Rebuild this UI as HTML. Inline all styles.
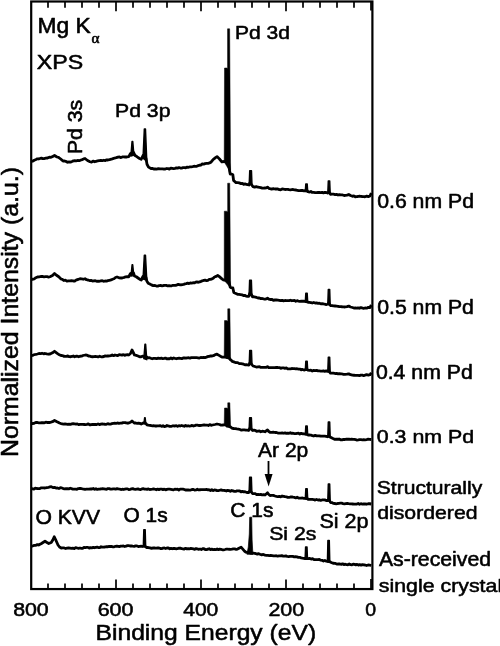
<!DOCTYPE html>
<html lang="en">
<head>
<meta charset="utf-8">
<title>XPS survey spectra</title>
<style>
html,body{margin:0;padding:0;background:#fff;}
body{width:500px;height:646px;overflow:hidden;}
svg{display:block;}
text{white-space:pre;}
</style>
</head>
<body>
<svg width="500" height="646" viewBox="0 0 500 646">
<rect x="31.2" y="1.5" width="341.2" height="587.55" fill="none" stroke="#000" stroke-width="2.2"/>
<path d="M371.00 589.05 V579.05 M371.00 1.5 V10.50 M354.00 589.05 V583.45 M354.00 1.5 V7.70 M337.00 589.05 V583.45 M337.00 1.5 V7.70 M320.00 589.05 V583.45 M320.00 1.5 V7.70 M303.00 589.05 V583.45 M303.00 1.5 V7.70 M286.00 589.05 V579.45 M286.00 1.5 V11.30 M269.00 589.05 V583.45 M269.00 1.5 V7.70 M252.00 589.05 V583.45 M252.00 1.5 V7.70 M235.00 589.05 V583.45 M235.00 1.5 V7.70 M218.00 589.05 V583.45 M218.00 1.5 V7.70 M201.00 589.05 V579.45 M201.00 1.5 V11.30 M184.00 589.05 V583.45 M184.00 1.5 V7.70 M167.00 589.05 V583.45 M167.00 1.5 V7.70 M150.00 589.05 V583.45 M150.00 1.5 V7.70 M133.00 589.05 V583.45 M133.00 1.5 V7.70 M116.00 589.05 V579.45 M116.00 1.5 V11.30 M99.00 589.05 V583.45 M99.00 1.5 V7.70 M82.00 589.05 V583.45 M82.00 1.5 V7.70 M65.00 589.05 V583.45 M65.00 1.5 V7.70 M48.00 589.05 V583.45 M48.00 1.5 V7.70" stroke="#000" stroke-width="1.7" fill="none"/>
<path d="M31.50 161.50 L32.50 161.25 L34.25 160.20 L36.00 159.50 L37.33 158.82 L38.67 158.98 L40.00 158.50 L41.33 158.14 L42.67 158.67 L44.00 158.70 L45.75 158.22 L47.50 158.00 L49.25 157.21 L51.00 157.30 L52.75 156.41 L54.50 155.50 L57.00 157.00 L58.50 157.29 L60.00 158.50 L61.50 159.68 L63.00 161.00 L64.50 160.99 L66.00 161.42 L67.50 162.25 L69.00 161.92 L70.50 162.08 L72.00 161.50 L73.38 160.87 L74.75 160.72 L76.12 160.88 L77.50 160.50 L79.25 160.70 L81.00 160.00 L82.33 159.58 L83.67 158.90 L85.00 158.50 L87.50 160.50 L90.00 161.75 L91.50 162.11 L93.00 161.07 L94.50 161.77 L96.00 161.30 L97.62 160.91 L99.25 160.59 L100.88 160.39 L102.50 160.60 L103.88 160.26 L105.25 160.62 L106.62 159.83 L108.00 160.00 L109.67 159.61 L111.33 159.21 L113.00 158.60 L114.67 158.01 L116.33 157.71 L118.00 157.20 L119.50 156.96 L121.00 157.60 L122.33 156.96 L123.67 156.91 L125.00 157.00 L126.88 156.98 L128.75 156.60 L130.50 153.50 L132.00 152.93 L133.50 152.50 L135.00 155.50 L136.50 156.31 L138.00 157.50 L139.62 158.46 L141.25 159.25 L143.00 155.50 L144.50 156.95 L146.00 158.50 L147.00 164.25 L148.50 167.10 L151.00 168.50 L152.33 168.40 L153.67 168.99 L155.00 168.80 L156.67 169.03 L158.33 168.61 L160.00 168.90 L161.33 168.94 L162.67 168.86 L164.00 169.18 L165.33 169.00 L166.67 168.52 L168.00 168.70 L169.40 169.10 L170.80 168.16 L172.20 168.38 L173.60 168.64 L175.00 168.30 L176.33 167.85 L177.67 168.09 L179.00 167.54 L180.33 168.07 L181.67 168.06 L183.00 167.70 L184.40 167.61 L185.80 167.76 L187.20 167.03 L188.60 167.26 L190.00 166.90 L191.33 166.79 L192.67 166.58 L194.00 166.26 L195.33 166.44 L196.67 166.34 L198.00 165.70 L199.40 165.25 L200.80 165.02 L202.20 164.00 L203.60 164.22 L205.00 163.60 L206.50 163.40 L208.00 163.39 L209.50 162.87 L211.00 162.20 L212.50 160.28 L214.00 158.80 L215.50 157.59 L217.00 156.60 L219.50 159.00 L221.80 161.80 L224.20 161.50 L225.67 161.94 L227.13 161.56 L228.60 162.30 L229.60 171.00 L230.20 174.00 L231.50 174.21 L232.80 174.50 L233.60 180.50 L236.00 182.60 L237.67 182.60 L239.33 182.88 L241.00 183.60 L242.33 183.39 L243.67 184.33 L245.00 183.93 L246.33 184.28 L247.67 184.66 L249.00 185.00 L249.80 183.00 L251.40 184.50 L253.00 186.60 L254.67 187.17 L256.33 186.58 L258.00 187.20 L259.40 187.31 L260.80 187.57 L262.20 188.06 L263.60 188.16 L265.00 188.00 L266.30 187.90 L267.50 187.10 L268.80 188.30 L270.00 188.70 L271.67 189.16 L273.33 188.68 L275.00 189.00 L276.43 188.99 L277.86 189.00 L279.29 189.60 L280.71 189.74 L282.14 189.01 L283.57 189.10 L285.00 189.50 L286.35 189.31 L287.69 189.39 L289.04 189.72 L290.38 189.90 L291.73 189.65 L293.08 189.47 L294.42 189.96 L295.77 189.98 L297.12 190.26 L298.46 190.72 L299.81 190.54 L301.15 190.44 L302.50 190.50 L304.00 190.77 L305.50 190.80 L307.50 191.00 L308.00 191.75 L309.43 192.03 L310.86 191.52 L312.29 192.47 L313.71 192.46 L315.14 192.66 L316.57 192.69 L318.00 192.50 L319.36 192.46 L320.71 192.54 L322.07 192.32 L323.43 192.92 L324.79 192.42 L326.14 192.50 L327.50 193.00 L328.30 192.50 L329.80 193.00 L330.50 194.25 L332.00 194.11 L333.50 194.21 L335.00 194.54 L336.50 194.40 L338.00 195.00 L339.40 194.60 L340.80 194.85 L342.20 194.90 L343.60 195.26 L345.00 195.50 L347.00 195.10 L348.75 194.50 L350.50 195.50 L352.50 196.30 L353.88 195.88 L355.25 196.77 L356.62 196.56 L358.00 196.50 L359.40 196.20 L360.80 196.35 L362.20 196.50 L363.60 196.56 L365.00 196.75 L366.67 196.12 L368.33 196.60 L370.00 196.00 L371.30 193.00" fill="none" stroke="#000" stroke-width="2.8" stroke-linejoin="round" stroke-linecap="butt"/>
<path d="M130.86 156.10 L132.02 141.55 L132.78 141.55 L133.94 155.10 Z" fill="#000" stroke="#000" stroke-width="1.4" stroke-linejoin="round"/>
<path d="M143.00 158.10 L144.30 129.05 L145.50 129.05 L146.80 161.10 Z" fill="#000" stroke="#000" stroke-width="1.4" stroke-linejoin="round"/>
<path d="M249.20 183.50 L249.70 170.80 L251.50 170.80 L252.00 185.00 Z" fill="#000" stroke="#000" stroke-width="1.4" stroke-linejoin="round"/>
<path d="M305.28 191.30 L305.78 183.90 L307.22 183.90 L307.72 191.50 Z" fill="#000" stroke="#000" stroke-width="1.4" stroke-linejoin="round"/>
<path d="M327.78 193.00 L328.28 180.90 L329.72 180.90 L330.22 193.50 Z" fill="#000" stroke="#000" stroke-width="1.4" stroke-linejoin="round"/>
<path d="M31.50 279.50 L32.50 279.25 L34.17 278.99 L35.83 277.72 L37.50 277.00 L39.12 276.93 L40.75 276.49 L42.38 276.45 L44.00 276.80 L45.50 276.63 L47.00 276.54 L48.50 277.09 L50.00 276.75 L52.50 275.50 L54.50 273.50 L56.50 275.30 L58.75 276.75 L61.00 279.00 L62.38 279.41 L63.75 280.50 L65.31 280.12 L66.88 281.15 L68.44 280.83 L70.00 280.90 L71.67 280.58 L73.33 281.01 L75.00 281.00 L76.50 279.78 L78.00 279.50 L80.00 278.75 L81.67 278.78 L83.33 279.23 L85.00 278.75 L86.50 279.74 L88.00 280.00 L89.50 280.53 L91.00 280.43 L92.50 281.00 L93.89 280.87 L95.28 280.67 L96.67 281.27 L98.06 281.03 L99.44 281.28 L100.83 280.83 L102.22 280.72 L103.61 281.31 L105.00 281.00 L106.50 281.13 L108.00 280.65 L109.50 280.26 L111.00 279.92 L112.50 279.25 L114.00 278.74 L115.50 277.48 L117.00 277.00 L119.00 277.80 L121.25 278.00 L122.75 277.77 L124.25 277.36 L125.75 276.78 L127.25 276.53 L128.75 276.75 L130.50 273.50 L132.00 273.03 L133.50 273.00 L134.50 276.00 L136.25 276.76 L138.00 278.00 L139.62 279.19 L141.25 280.00 L143.00 276.50 L144.50 277.46 L146.00 277.50 L146.80 281.00 L148.20 283.20 L149.80 284.00 L151.40 284.90 L153.20 285.64 L155.00 285.50 L156.40 286.05 L157.80 286.08 L159.20 285.54 L160.60 285.46 L162.00 285.80 L163.40 285.51 L164.80 285.46 L166.20 285.44 L167.60 285.84 L169.00 285.70 L170.33 285.97 L171.67 285.77 L173.00 285.28 L174.33 285.32 L175.67 285.33 L177.00 284.90 L178.33 284.32 L179.67 284.73 L181.00 284.81 L182.33 284.52 L183.67 284.32 L185.00 283.90 L186.33 283.68 L187.67 283.18 L189.00 283.59 L190.33 282.93 L191.67 283.20 L193.00 282.70 L194.33 282.95 L195.67 282.16 L197.00 281.95 L198.33 282.28 L199.67 281.84 L201.00 281.40 L202.37 280.78 L203.74 280.46 L205.11 280.19 L206.49 280.66 L207.86 280.28 L209.23 279.33 L210.60 279.40 L211.90 278.93 L213.20 278.28 L214.50 277.00 L216.10 276.41 L217.70 275.50 L219.10 276.40 L220.50 277.60 L221.95 278.85 L223.40 280.00 L224.25 280.20 L225.77 280.10 L227.28 280.25 L228.80 281.00 L230.20 287.30 L231.00 287.60 L232.80 287.90 L233.80 292.40 L236.00 293.60 L237.50 294.37 L239.00 294.35 L240.50 294.53 L242.00 294.80 L243.35 295.52 L244.70 295.31 L246.05 296.04 L247.40 296.29 L248.75 296.25 L249.70 293.50 L251.30 294.50 L252.50 296.75 L253.88 296.77 L255.25 297.13 L256.62 297.48 L258.00 298.00 L259.40 297.99 L260.80 298.59 L262.20 298.51 L263.60 298.92 L265.00 299.25 L266.30 298.90 L267.50 298.20 L268.80 299.20 L270.00 299.50 L271.67 299.30 L273.33 300.24 L275.00 300.00 L276.43 299.93 L277.86 300.10 L279.29 300.30 L280.71 300.69 L282.14 300.28 L283.57 300.85 L285.00 300.50 L286.35 300.56 L287.69 300.65 L289.04 300.70 L290.38 300.25 L291.73 300.73 L293.08 300.53 L294.42 300.41 L295.77 301.26 L297.12 300.69 L298.46 301.05 L299.81 301.36 L301.15 301.25 L302.50 301.25 L304.00 301.20 L305.50 301.50 L307.50 301.80 L308.00 302.25 L309.43 302.42 L310.86 302.61 L312.29 302.98 L313.71 302.46 L315.14 303.06 L316.57 302.90 L318.00 303.30 L319.36 303.21 L320.71 303.84 L322.07 303.71 L323.43 303.90 L324.79 304.24 L326.14 304.53 L327.50 304.25 L328.30 303.50 L329.80 304.50 L330.50 305.50 L332.00 305.60 L333.50 305.93 L335.00 305.99 L336.50 306.15 L338.00 306.30 L339.40 306.63 L340.80 306.53 L342.20 306.75 L343.60 306.84 L345.00 307.00 L347.00 306.60 L348.75 306.10 L350.50 307.00 L352.50 307.50 L353.88 308.02 L355.25 307.85 L356.62 308.10 L358.00 307.80 L359.40 308.28 L360.80 307.64 L362.20 307.98 L363.60 308.40 L365.00 308.00 L366.67 308.17 L368.33 307.30 L370.00 307.50 L371.30 305.00" fill="none" stroke="#000" stroke-width="2.8" stroke-linejoin="round" stroke-linecap="butt"/>
<path d="M130.97 276.10 L132.09 264.80 L132.71 264.80 L133.83 275.60 Z" fill="#000" stroke="#000" stroke-width="1.4" stroke-linejoin="round"/>
<path d="M143.00 279.10 L144.30 255.30 L145.50 255.30 L146.80 280.10 Z" fill="#000" stroke="#000" stroke-width="1.4" stroke-linejoin="round"/>
<path d="M249.10 294.00 L249.60 280.30 L251.40 280.30 L251.90 295.00 Z" fill="#000" stroke="#000" stroke-width="1.4" stroke-linejoin="round"/>
<path d="M305.28 302.00 L305.78 293.30 L307.22 293.30 L307.72 302.30 Z" fill="#000" stroke="#000" stroke-width="1.4" stroke-linejoin="round"/>
<path d="M327.78 304.00 L328.28 289.55 L329.72 289.55 L330.22 305.00 Z" fill="#000" stroke="#000" stroke-width="1.4" stroke-linejoin="round"/>
<path d="M31.50 355.70 L32.50 355.50 L34.17 354.62 L35.83 354.44 L37.50 354.00 L39.00 353.47 L40.50 353.54 L42.00 353.27 L43.50 353.77 L45.00 353.50 L46.67 353.95 L48.33 354.23 L50.00 354.00 L52.50 352.80 L54.50 351.25 L56.50 352.80 L58.75 354.50 L61.00 355.50 L62.38 355.53 L63.75 356.25 L65.12 356.47 L66.50 356.43 L67.88 355.92 L69.25 356.67 L70.62 356.76 L72.00 356.30 L73.33 356.01 L74.67 356.74 L76.00 356.17 L77.33 356.25 L78.67 356.75 L80.00 356.25 L81.50 356.21 L83.00 355.50 L85.50 355.00 L87.00 355.16 L88.50 356.00 L89.83 356.18 L91.17 356.52 L92.50 356.75 L93.93 356.59 L95.36 356.45 L96.79 356.57 L98.21 356.97 L99.64 356.27 L101.07 356.80 L102.50 356.75 L103.88 356.50 L105.25 355.89 L106.62 356.02 L108.00 356.00 L109.40 355.92 L110.80 355.61 L112.20 354.96 L113.60 355.69 L115.00 355.00 L116.40 355.31 L117.80 355.51 L119.20 354.66 L120.60 354.85 L122.00 355.10 L123.35 354.62 L124.70 355.34 L126.05 354.81 L127.40 354.65 L128.75 355.00 L130.50 353.50 L132.00 350.00 L133.50 353.00 L134.50 355.00 L136.25 355.42 L138.00 356.00 L139.62 356.79 L141.25 356.75 L142.90 356.10 L144.23 356.75 L145.57 356.53 L146.90 357.10 L148.00 357.90 L149.50 357.75 L151.00 358.30 L152.33 358.75 L153.67 358.44 L155.00 358.40 L156.67 358.63 L158.33 358.06 L160.00 358.50 L161.36 358.05 L162.73 358.67 L164.09 358.40 L165.45 358.04 L166.82 358.89 L168.18 358.58 L169.55 358.74 L170.91 358.01 L172.27 358.77 L173.64 357.98 L175.00 358.40 L176.36 358.74 L177.73 358.30 L179.09 358.16 L180.45 358.34 L181.82 358.69 L183.18 358.00 L184.55 357.84 L185.91 358.21 L187.27 357.89 L188.64 357.74 L190.00 358.10 L191.33 357.71 L192.67 357.55 L194.00 357.65 L195.33 357.71 L196.67 357.66 L198.00 357.80 L199.40 358.02 L200.80 357.51 L202.20 357.68 L203.60 357.32 L205.00 357.60 L206.44 357.13 L207.88 356.48 L209.32 356.39 L210.76 355.84 L212.20 356.00 L213.50 355.68 L214.80 354.90 L217.00 354.20 L219.50 355.60 L220.95 356.45 L222.40 357.20 L224.30 357.20 L225.87 357.09 L227.43 357.57 L229.00 357.80 L230.30 359.60 L231.00 360.00 L232.40 361.38 L233.80 361.90 L236.00 362.70 L237.67 362.64 L239.33 363.69 L241.00 363.70 L242.30 363.88 L243.60 364.20 L244.90 364.78 L246.20 364.59 L247.50 364.96 L248.80 365.20 L249.80 363.00 L251.40 364.00 L253.00 366.00 L254.67 366.45 L256.33 367.02 L258.00 366.80 L259.40 366.76 L260.80 367.37 L262.20 367.37 L263.60 367.42 L265.00 367.40 L266.30 367.30 L267.50 366.60 L268.80 367.70 L270.00 367.70 L271.67 367.60 L273.33 367.55 L275.00 367.70 L276.43 367.34 L277.86 367.50 L279.29 367.53 L280.71 368.28 L282.14 367.88 L283.57 367.88 L285.00 368.30 L286.35 367.97 L287.69 368.82 L289.04 368.94 L290.38 368.82 L291.73 368.52 L293.08 368.57 L294.42 368.71 L295.77 368.97 L297.12 368.75 L298.46 369.13 L299.81 369.04 L301.15 369.82 L302.50 369.45 L304.00 370.05 L305.50 369.70 L307.50 369.70 L308.00 370.20 L309.43 370.35 L310.86 370.14 L312.29 370.97 L313.71 370.41 L315.14 370.56 L316.57 370.30 L318.00 370.90 L319.36 370.86 L320.71 371.03 L322.07 371.14 L323.43 370.92 L324.79 371.30 L326.14 370.88 L327.50 371.45 L328.30 370.70 L329.80 372.20 L330.50 373.20 L332.00 373.10 L333.50 373.07 L335.00 373.52 L336.50 373.30 L338.00 373.90 L339.40 373.53 L340.80 373.92 L342.20 373.96 L343.60 374.43 L345.00 374.45 L347.00 374.20 L348.75 373.80 L350.50 374.70 L352.50 375.20 L353.89 375.23 L355.28 375.45 L356.67 375.36 L358.06 375.42 L359.44 375.58 L360.83 375.09 L362.22 375.03 L363.61 375.68 L365.00 375.20 L366.67 374.68 L368.33 375.09 L370.00 374.70 L371.30 372.70" fill="none" stroke="#000" stroke-width="2.8" stroke-linejoin="round" stroke-linecap="butt"/>
<path d="M143.80 358.70 L144.95 344.30 L145.65 344.30 L146.80 359.70 Z" fill="#000" stroke="#000" stroke-width="1.4" stroke-linejoin="round"/>
<path d="M249.20 363.50 L249.70 350.40 L251.50 350.40 L252.00 364.50 Z" fill="#000" stroke="#000" stroke-width="1.4" stroke-linejoin="round"/>
<path d="M305.28 370.20 L305.78 361.25 L307.22 361.25 L307.72 370.20 Z" fill="#000" stroke="#000" stroke-width="1.4" stroke-linejoin="round"/>
<path d="M327.78 371.20 L328.28 357.25 L329.72 357.25 L330.22 372.70 Z" fill="#000" stroke="#000" stroke-width="1.4" stroke-linejoin="round"/>
<path d="M31.50 423.70 L32.50 423.50 L34.17 423.31 L35.83 422.38 L37.50 422.50 L38.89 422.84 L40.28 422.89 L41.67 422.63 L43.06 422.73 L44.44 422.81 L45.83 422.14 L47.22 422.52 L48.61 422.50 L50.00 422.50 L52.50 421.70 L54.50 420.50 L57.00 421.80 L59.50 423.00 L60.88 423.58 L62.25 423.80 L63.62 424.08 L65.00 424.00 L66.36 424.11 L67.73 424.45 L69.09 424.26 L70.45 424.30 L71.82 423.87 L73.18 423.69 L74.55 423.82 L75.91 424.08 L77.27 423.85 L78.64 424.61 L80.00 424.30 L81.39 424.38 L82.78 424.47 L84.17 424.49 L85.56 424.57 L86.94 424.40 L88.33 423.94 L89.72 424.75 L91.11 424.73 L92.50 424.50 L93.89 424.48 L95.28 424.48 L96.67 424.58 L98.06 423.95 L99.44 424.60 L100.83 424.09 L102.22 423.88 L103.61 424.04 L105.00 424.25 L106.39 424.34 L107.78 423.68 L109.17 424.07 L110.56 424.17 L111.94 423.55 L113.33 423.30 L114.72 423.26 L116.11 423.32 L117.50 423.00 L118.91 423.27 L120.31 423.12 L121.72 423.14 L123.12 422.58 L124.53 422.65 L125.94 422.75 L127.34 423.24 L128.75 423.00 L130.50 422.30 L132.00 421.00 L133.50 422.30 L134.50 423.00 L135.85 423.00 L137.20 423.47 L138.55 423.11 L139.90 423.36 L141.25 424.00 L143.20 423.00 L144.55 423.02 L145.90 423.50 L147.00 424.80 L148.33 425.21 L149.67 425.46 L151.00 425.50 L152.33 425.84 L153.67 425.62 L155.00 426.00 L156.33 426.02 L157.67 425.96 L159.00 425.97 L160.33 425.62 L161.67 426.39 L163.00 425.70 L164.33 426.48 L165.67 426.44 L167.00 425.52 L168.33 425.96 L169.67 426.32 L171.00 426.47 L172.33 425.95 L173.67 425.77 L175.00 426.00 L176.32 425.68 L177.63 426.39 L178.95 425.63 L180.26 425.98 L181.58 425.51 L182.89 425.87 L184.21 426.27 L185.53 425.42 L186.84 426.08 L188.16 425.75 L189.47 426.10 L190.79 425.89 L192.11 425.39 L193.42 426.03 L194.74 425.59 L196.05 425.10 L197.37 425.06 L198.68 425.52 L200.00 425.50 L201.39 425.40 L202.78 425.19 L204.17 424.97 L205.56 425.12 L206.94 425.04 L208.33 425.51 L209.72 424.61 L211.11 425.31 L212.50 425.00 L215.00 424.50 L217.00 424.00 L219.50 424.50 L221.00 425.09 L222.50 425.00 L224.30 424.80 L225.73 424.91 L227.15 426.20 L228.57 426.48 L230.00 426.75 L231.00 427.30 L232.38 428.30 L233.75 428.50 L235.31 428.54 L236.88 428.87 L238.44 429.14 L240.00 429.50 L241.46 430.17 L242.92 429.92 L244.38 429.86 L245.83 430.09 L247.29 430.11 L248.75 430.50 L249.70 428.50 L251.30 429.00 L252.50 430.50 L253.88 430.20 L255.25 430.40 L256.62 431.28 L258.00 431.10 L259.40 431.02 L260.80 431.80 L262.20 431.24 L263.60 431.39 L265.00 431.75 L266.50 430.70 L267.50 430.00 L268.80 431.50 L270.00 432.25 L271.67 432.34 L273.33 432.11 L275.00 432.50 L276.43 432.43 L277.86 433.07 L279.29 433.06 L280.71 433.04 L282.14 432.92 L283.57 433.26 L285.00 432.90 L286.35 433.41 L287.69 433.08 L289.04 433.32 L290.38 432.71 L291.73 433.46 L293.08 433.24 L294.42 433.61 L295.77 433.57 L297.12 433.27 L298.46 433.10 L299.81 434.05 L301.15 433.31 L302.50 433.75 L304.00 433.90 L305.50 434.10 L307.50 434.50 L308.00 435.00 L309.43 434.97 L310.86 435.05 L312.29 435.62 L313.71 435.99 L315.14 435.40 L316.57 435.93 L318.00 435.90 L319.36 435.82 L320.71 436.20 L322.07 436.16 L323.43 436.05 L324.79 436.17 L326.14 436.34 L327.50 436.75 L328.30 436.00 L329.80 436.80 L330.50 437.30 L333.00 438.60 L334.50 439.31 L336.00 439.20 L337.50 439.25 L339.00 439.02 L340.50 439.76 L342.00 439.90 L343.50 439.40 L345.00 439.50 L346.33 439.16 L347.67 439.23 L349.00 439.15 L350.33 439.42 L351.67 439.19 L353.00 439.36 L354.33 439.40 L355.67 439.73 L357.00 440.07 L358.33 439.95 L359.67 439.63 L361.00 439.65 L362.33 439.78 L363.67 439.66 L365.00 439.80 L366.57 439.56 L368.15 439.21 L369.73 439.35 L371.30 439.50" fill="none" stroke="#000" stroke-width="2.8" stroke-linejoin="round" stroke-linecap="butt"/>
<path d="M143.90 423.50 L144.65 417.70 L145.15 417.70 L145.90 424.00 Z" fill="#000" stroke="#000" stroke-width="1.4" stroke-linejoin="round"/>
<path d="M249.10 429.00 L249.60 417.80 L251.40 417.80 L251.90 429.50 Z" fill="#000" stroke="#000" stroke-width="1.4" stroke-linejoin="round"/>
<path d="M305.28 434.60 L305.78 426.05 L307.22 426.05 L307.72 435.00 Z" fill="#000" stroke="#000" stroke-width="1.4" stroke-linejoin="round"/>
<path d="M327.78 436.50 L328.28 422.05 L329.72 422.05 L330.22 437.30 Z" fill="#000" stroke="#000" stroke-width="1.4" stroke-linejoin="round"/>
<path d="M31.50 488.80 L32.50 488.75 L33.89 489.13 L35.28 488.21 L36.67 488.50 L38.06 488.55 L39.44 488.70 L40.83 487.97 L42.22 487.94 L43.61 487.83 L45.00 488.00 L46.75 487.55 L48.50 487.30 L49.88 486.97 L51.25 486.75 L52.88 487.53 L54.50 487.40 L56.00 488.05 L57.50 488.00 L58.93 488.48 L60.36 487.74 L61.79 487.85 L63.21 488.64 L64.64 488.93 L66.07 488.62 L67.50 488.75 L68.85 488.85 L70.21 488.27 L71.56 488.67 L72.92 489.22 L74.27 489.13 L75.62 489.17 L76.98 489.30 L78.33 488.58 L79.69 488.45 L81.04 488.51 L82.40 488.89 L83.75 489.06 L85.10 489.33 L86.46 489.12 L87.81 489.05 L89.17 489.18 L90.52 488.88 L91.88 488.99 L93.23 488.49 L94.58 489.24 L95.94 488.70 L97.29 489.40 L98.65 489.14 L100.00 489.00 L101.31 488.81 L102.62 488.64 L103.93 488.77 L105.24 489.16 L106.55 489.23 L107.86 488.65 L109.17 488.61 L110.48 489.07 L111.79 489.14 L113.10 488.95 L114.40 488.79 L115.71 489.17 L117.02 488.59 L118.33 488.88 L119.64 489.05 L120.95 489.55 L122.26 489.25 L123.57 489.49 L124.88 489.09 L126.19 488.85 L127.50 488.87 L128.81 489.59 L130.12 489.34 L131.43 488.95 L132.74 488.67 L134.05 489.15 L135.36 489.34 L136.67 489.09 L137.98 488.93 L139.29 489.35 L140.60 489.61 L141.90 488.92 L143.21 488.73 L144.52 489.04 L145.83 489.13 L147.14 489.40 L148.45 488.92 L149.76 489.52 L151.07 489.47 L152.38 489.24 L153.69 488.95 L155.00 489.25 L156.32 489.73 L157.65 489.09 L158.97 489.61 L160.29 489.04 L161.62 489.04 L162.94 489.60 L164.26 489.15 L165.59 489.82 L166.91 489.38 L168.24 489.08 L169.56 489.14 L170.88 489.34 L172.21 489.61 L173.53 489.90 L174.85 489.12 L176.18 489.38 L177.50 489.21 L178.82 489.99 L180.15 489.17 L181.47 489.10 L182.79 489.12 L184.12 489.47 L185.44 489.99 L186.76 489.99 L188.09 489.85 L189.41 490.13 L190.74 490.08 L192.06 489.49 L193.38 489.36 L194.71 490.13 L196.03 489.95 L197.35 489.25 L198.68 489.90 L200.00 489.75 L201.32 489.67 L202.63 489.70 L203.95 489.70 L205.26 489.58 L206.58 489.45 L207.89 489.77 L209.21 489.88 L210.53 490.52 L211.84 489.73 L213.16 490.61 L214.47 489.89 L215.79 490.08 L217.11 490.58 L218.42 490.62 L219.74 490.27 L221.05 489.93 L222.37 490.39 L223.68 490.33 L225.00 490.50 L226.33 491.00 L227.67 490.36 L229.00 490.61 L230.33 491.23 L231.67 490.45 L233.00 490.91 L234.33 491.40 L235.67 491.43 L237.00 490.79 L238.33 490.87 L239.67 490.98 L241.00 491.92 L242.33 491.34 L243.67 491.91 L245.00 491.75 L246.88 492.52 L248.75 492.50 L249.70 491.00 L251.30 492.00 L252.50 493.50 L253.88 493.54 L255.25 493.67 L256.62 494.56 L258.00 494.30 L259.40 494.56 L260.80 494.34 L262.20 494.94 L263.60 494.68 L265.00 495.00 L266.50 493.70 L267.50 492.80 L268.80 494.50 L270.00 495.50 L271.67 495.44 L273.33 495.34 L275.00 496.00 L276.43 496.36 L277.86 496.62 L279.29 496.43 L280.71 496.84 L282.14 496.02 L283.57 496.33 L285.00 496.70 L286.35 496.78 L287.69 497.36 L289.04 497.45 L290.38 496.99 L291.73 496.95 L293.08 497.23 L294.42 497.39 L295.77 497.93 L297.12 497.28 L298.46 498.00 L299.81 498.04 L301.15 498.22 L302.50 498.00 L304.00 498.42 L305.50 498.30 L307.50 498.70 L308.00 499.25 L309.43 499.46 L310.86 499.29 L312.29 499.39 L313.71 499.54 L315.14 500.07 L316.57 499.47 L318.00 500.00 L319.36 499.77 L320.71 500.40 L322.07 499.96 L323.43 499.85 L324.79 499.89 L326.14 500.48 L327.50 500.50 L328.30 500.00 L329.80 501.00 L330.50 502.50 L331.90 502.53 L333.30 503.38 L334.70 503.48 L336.10 503.79 L337.50 503.50 L338.89 503.30 L340.28 503.15 L341.67 503.20 L343.06 503.63 L344.44 503.88 L345.83 503.65 L347.22 503.47 L348.61 503.68 L350.00 503.80 L351.36 503.94 L352.73 504.01 L354.09 504.10 L355.45 504.22 L356.82 504.06 L358.18 503.53 L359.55 504.27 L360.91 503.74 L362.27 504.03 L363.64 503.85 L365.00 504.00 L366.57 504.24 L368.15 503.70 L369.73 503.75 L371.30 504.00" fill="none" stroke="#000" stroke-width="2.8" stroke-linejoin="round" stroke-linecap="butt"/>
<path d="M249.10 491.50 L249.60 477.30 L251.40 477.30 L251.90 492.50 Z" fill="#000" stroke="#000" stroke-width="1.4" stroke-linejoin="round"/>
<path d="M305.28 498.80 L305.78 488.80 L307.22 488.80 L307.72 499.20 Z" fill="#000" stroke="#000" stroke-width="1.4" stroke-linejoin="round"/>
<path d="M327.78 500.50 L328.28 484.05 L329.72 484.05 L330.22 501.50 Z" fill="#000" stroke="#000" stroke-width="1.4" stroke-linejoin="round"/>
<path d="M31.50 546.30 L32.50 546.00 L34.25 545.40 L36.00 545.30 L37.33 544.60 L38.67 544.98 L40.00 544.25 L41.50 543.45 L43.00 542.50 L45.00 541.25 L47.00 542.50 L48.75 543.50 L51.25 542.50 L52.80 540.00 L54.25 536.75 L55.80 540.00 L58.00 545.00 L59.50 547.00 L61.25 548.00 L62.71 547.84 L64.17 547.93 L65.62 548.54 L67.08 548.07 L68.54 547.81 L70.00 548.10 L71.43 548.39 L72.86 548.22 L74.29 548.55 L75.71 547.65 L77.14 548.00 L78.57 548.33 L80.00 548.00 L81.32 548.29 L82.63 548.31 L83.95 547.38 L85.26 547.58 L86.58 547.36 L87.89 547.37 L89.21 548.10 L90.53 547.66 L91.84 547.96 L93.16 547.35 L94.47 547.79 L95.79 547.32 L97.11 547.08 L98.42 547.54 L99.74 547.66 L101.05 546.76 L102.37 547.20 L103.68 547.17 L105.00 547.00 L106.32 546.67 L107.63 546.76 L108.95 546.48 L110.26 546.49 L111.58 546.49 L112.89 546.78 L114.21 546.78 L115.53 546.28 L116.84 546.04 L118.16 546.30 L119.47 546.60 L120.79 546.05 L122.11 546.13 L123.42 545.97 L124.74 546.51 L126.05 546.21 L127.37 545.67 L128.68 545.65 L130.00 546.00 L131.39 545.95 L132.78 546.16 L134.17 546.31 L135.56 545.81 L136.94 545.94 L138.33 546.53 L139.72 546.30 L141.11 546.23 L142.50 546.50 L143.70 546.00 L145.40 546.50 L146.50 547.50 L148.25 547.51 L150.00 547.90 L151.67 548.39 L153.33 547.78 L155.00 548.00 L156.33 548.10 L157.67 547.92 L159.00 548.02 L160.33 548.50 L161.67 548.66 L163.00 548.06 L164.33 547.93 L165.67 548.49 L167.00 548.00 L168.33 547.84 L169.67 548.77 L171.00 548.32 L172.33 548.75 L173.67 548.37 L175.00 548.50 L176.32 548.91 L177.63 548.51 L178.95 548.24 L180.26 548.12 L181.58 548.68 L182.89 548.80 L184.21 549.09 L185.53 548.30 L186.84 548.86 L188.16 548.63 L189.47 548.79 L190.79 548.46 L192.11 548.63 L193.42 548.89 L194.74 549.32 L196.05 548.53 L197.37 548.94 L198.68 549.28 L200.00 549.00 L201.32 549.49 L202.63 548.75 L203.95 548.71 L205.26 549.55 L206.58 549.61 L207.89 549.14 L209.21 548.74 L210.53 549.64 L211.84 549.12 L213.16 549.67 L214.47 549.41 L215.79 549.64 L217.11 549.00 L218.42 549.65 L219.74 549.12 L221.05 549.33 L222.37 549.79 L223.68 549.80 L225.00 549.50 L226.39 549.14 L227.78 549.13 L229.17 549.27 L230.56 549.34 L231.94 549.16 L233.33 548.86 L234.72 548.94 L236.11 549.37 L237.50 549.10 L239.50 548.10 L241.10 547.30 L242.60 548.90 L244.50 551.10 L245.85 552.20 L247.20 552.50 L248.85 552.34 L250.50 553.10 L251.95 553.16 L253.40 553.10 L256.00 553.70 L257.33 554.16 L258.67 553.64 L260.00 554.30 L261.67 554.90 L263.33 554.45 L265.00 555.10 L266.43 555.30 L267.86 555.35 L269.29 555.53 L270.71 555.31 L272.14 555.52 L273.57 555.78 L275.00 555.80 L276.36 555.77 L277.73 556.05 L279.09 555.88 L280.45 555.92 L281.82 555.55 L283.18 556.19 L284.55 556.11 L285.91 555.90 L287.27 556.47 L288.64 556.53 L290.00 556.30 L291.39 556.46 L292.78 556.38 L294.17 556.87 L295.56 556.71 L296.94 556.93 L298.33 557.43 L299.72 557.29 L301.11 557.84 L302.50 558.10 L303.85 558.31 L305.20 558.50 L307.40 558.50 L308.50 558.70 L309.86 558.38 L311.21 559.12 L312.57 558.71 L313.93 559.50 L315.29 559.69 L316.64 559.57 L318.00 559.70 L319.38 559.49 L320.75 560.17 L322.12 560.28 L323.50 561.08 L324.88 560.50 L326.25 561.10 L327.40 561.30 L329.80 561.70 L331.25 562.50 L333.12 563.26 L335.00 563.30 L336.67 564.03 L338.33 564.00 L340.00 564.00 L341.32 564.37 L342.63 563.80 L343.95 564.64 L345.26 564.20 L346.58 564.72 L347.89 564.73 L349.21 564.03 L350.53 564.71 L351.84 564.90 L353.16 564.09 L354.47 564.43 L355.79 564.89 L357.11 564.34 L358.42 565.13 L359.74 564.56 L361.05 565.16 L362.37 564.54 L363.68 564.95 L365.00 565.00 L366.57 565.54 L368.15 564.96 L369.73 565.14 L371.30 565.50" fill="none" stroke="#000" stroke-width="2.8" stroke-linejoin="round" stroke-linecap="butt"/>
<path d="M143.28 546.50 L143.78 529.80 L145.22 529.80 L145.72 547.00 Z" fill="#000" stroke="#000" stroke-width="1.4" stroke-linejoin="round"/>
<path d="M305.08 559.00 L305.58 546.90 L307.02 546.90 L307.52 559.00 Z" fill="#000" stroke="#000" stroke-width="1.4" stroke-linejoin="round"/>
<path d="M327.38 561.80 L327.88 540.50 L329.32 540.50 L329.82 562.20 Z" fill="#000" stroke="#000" stroke-width="1.4" stroke-linejoin="round"/>
<path d="M246.9 554.2 L248.3 547 L249.3 534 L249.7 517.2 L251.7 517.2 L252.1 540 L252.9 554.4 Z" fill="#000" stroke="#000" stroke-width="0.7" stroke-linejoin="round"/>
<path d="M224.2 162.00 L224.50 68.00 L226.70 68.00 L227.55 68.60 L227.55 28.80 L229.65 28.80 L230.6 172.50 Z" fill="#000" stroke="#000" stroke-width="0.5" stroke-linejoin="round"/>
<path d="M224.2 280.50 L224.30 211.20 L226.50 211.20 L227.65 211.80 L227.65 183.20 L229.75 183.20 L230.6 287.50 Z" fill="#000" stroke="#000" stroke-width="0.5" stroke-linejoin="round"/>
<path d="M224.2 357.40 L224.50 320.60 L226.70 320.60 L227.75 321.20 L227.75 308.80 L229.85 308.80 L230.6 359.80 Z" fill="#000" stroke="#000" stroke-width="0.5" stroke-linejoin="round"/>
<path d="M224.2 425.00 L224.50 408.00 L226.70 408.00 L227.75 408.60 L227.75 402.80 L229.85 402.80 L230.6 426.80 Z" fill="#000" stroke="#000" stroke-width="0.5" stroke-linejoin="round"/>
<path d="M268.5 461 V476" stroke="#000" stroke-width="1.8" fill="none"/>
<path d="M264.6 474 L272.6 474 L268.6 486.4 Z" fill="#000"/>
<g fill="#000" stroke="#000" stroke-width="0.6" stroke-linejoin="round">
<text transform="translate(37.47,33.40) scale(1,0.9309)" font-size="22.81" font-family='"Liberation Sans", Arial, Helvetica, sans-serif'>Mg K</text>
<text transform="translate(91.58,42.70) scale(1,0.9148)" font-size="15.27" font-family='"Liberation Serif", "DejaVu Serif", serif'>α</text>
<text transform="translate(36.83,68.50) scale(1,0.9029)" font-size="23.18" font-family='"Liberation Sans", Arial, Helvetica, sans-serif'>XPS</text>
<text transform="translate(82.00,154.05) rotate(-90) scale(1,0.9634)" font-size="21.19" font-family='"Liberation Sans", Arial, Helvetica, sans-serif'>Pd 3s</text>
<text transform="translate(115.00,117.00) scale(1,0.9037)" font-size="21.24" font-family='"Liberation Sans", Arial, Helvetica, sans-serif'>Pd 3p</text>
<text transform="translate(235.01,39.40) scale(1,0.8921)" font-size="21.03" font-family='"Liberation Sans", Arial, Helvetica, sans-serif'>Pd 3d</text>
<text transform="translate(377.20,207.60) scale(1,0.9384)" font-size="21.23" font-family='"Liberation Sans", Arial, Helvetica, sans-serif'>0.6 nm Pd</text>
<text transform="translate(377.20,313.70) scale(1,0.9179)" font-size="21.23" font-family='"Liberation Sans", Arial, Helvetica, sans-serif'>0.5 nm Pd</text>
<text transform="translate(375.90,378.90) scale(1,0.9101)" font-size="21.26" font-family='"Liberation Sans", Arial, Helvetica, sans-serif'>0.4 nm Pd</text>
<text transform="translate(376.80,443.40) scale(1,0.8917)" font-size="21.37" font-family='"Liberation Sans", Arial, Helvetica, sans-serif'>0.3 nm Pd</text>
<text transform="translate(376.70,493.50) scale(1,0.8965)" font-size="21.11" font-family='"Liberation Sans", Arial, Helvetica, sans-serif'>Structurally</text>
<text transform="translate(377.25,519.20) scale(1,0.8704)" font-size="21.23" font-family='"Liberation Sans", Arial, Helvetica, sans-serif'>disordered</text>
<text transform="translate(378.90,565.70) scale(1,0.9169)" font-size="21.26" font-family='"Liberation Sans", Arial, Helvetica, sans-serif'>As-received</text>
<text transform="translate(378.86,591.90) scale(1,0.8537)" font-size="21.33" font-family='"Liberation Sans", Arial, Helvetica, sans-serif'>single crystal</text>
<text transform="translate(258.10,456.90) scale(1,0.9558)" font-size="21.00" font-family='"Liberation Sans", Arial, Helvetica, sans-serif'>Ar 2p</text>
<text transform="translate(35.44,523.70) scale(1,0.9484)" font-size="21.16" font-family='"Liberation Sans", Arial, Helvetica, sans-serif'>O KVV</text>
<text transform="translate(123.46,521.70) scale(1,0.9588)" font-size="20.94" font-family='"Liberation Sans", Arial, Helvetica, sans-serif'>O 1s</text>
<text transform="translate(230.30,516.60) scale(1,0.9366)" font-size="20.96" font-family='"Liberation Sans", Arial, Helvetica, sans-serif'>C 1s</text>
<text transform="translate(269.19,539.50) scale(1,0.8911)" font-size="21.24" font-family='"Liberation Sans", Arial, Helvetica, sans-serif'>Si 2s</text>
<text transform="translate(319.38,527.70) scale(1,0.9503)" font-size="21.57" font-family='"Liberation Sans", Arial, Helvetica, sans-serif'>Si 2p</text>
<text transform="translate(13.14,615.50) scale(1,0.8728)" font-size="21.35" font-family='"Liberation Sans", Arial, Helvetica, sans-serif'>800</text>
<text transform="translate(97.68,615.50) scale(1,0.8687)" font-size="21.46" font-family='"Liberation Sans", Arial, Helvetica, sans-serif'>600</text>
<text transform="translate(183.18,615.50) scale(1,0.8838)" font-size="21.09" font-family='"Liberation Sans", Arial, Helvetica, sans-serif'>400</text>
<text transform="translate(268.38,615.50) scale(1,0.8687)" font-size="21.46" font-family='"Liberation Sans", Arial, Helvetica, sans-serif'>200</text>
<text transform="translate(365.17,615.50) scale(1,0.9570)" font-size="19.48" font-family='"Liberation Sans", Arial, Helvetica, sans-serif'>0</text>
<text transform="translate(95.52,639.50) scale(1,0.8790)" font-size="24.66" font-family='"Liberation Sans", Arial, Helvetica, sans-serif'>Binding Energy (eV)</text>
<text transform="translate(18.30,457.05) rotate(-90) scale(1,0.9266)" font-size="24.86" font-family='"Liberation Sans", Arial, Helvetica, sans-serif'>Normalized Intensity (a.u.)</text>
</g>
</svg>
</body>
</html>
